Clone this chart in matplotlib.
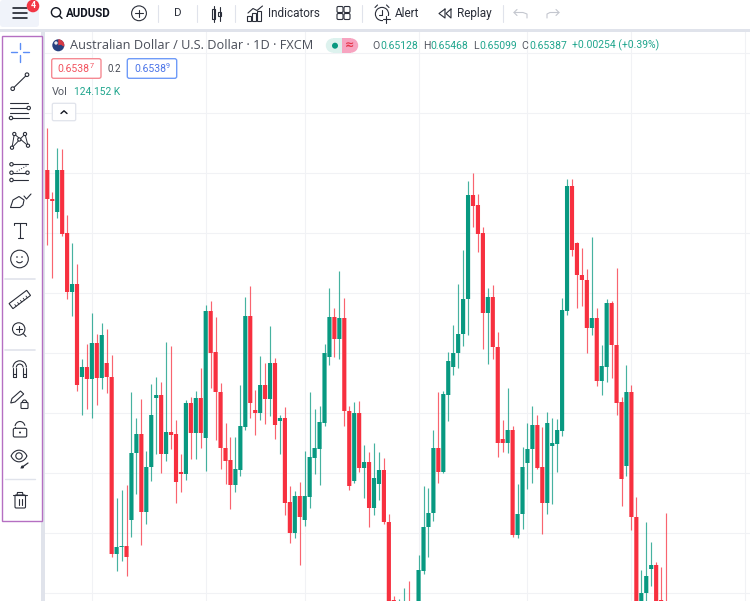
import numpy as np
import matplotlib
matplotlib.use("Agg")
import matplotlib.pyplot as plt
from matplotlib.patches import Circle, FancyBboxPatch, Polygon, Rectangle, Wedge, Arc

plt.rcParams['font.family'] = ['Roboto', 'DejaVu Sans']

# Daily AUD/USD candles, prices in pips (1 pip = 0.0001)
open_pips = [7030,7001,6988,7030,6967,6908,6916,6823,6833,6821,6857,6822,6837,6823,6646,6653,6654,6680,6747,6766,6688,6733,6802,6805,6746,6768,6766,6728,6726,6797,6767,6802,6762,6889,6848,6808,6752,6740,6715,6730,6773,6884,6790,6787,6815,6801,6837,6779,6782,6698,6667,6704,6680,6703,6742,6751,6777,6843,6883,6861,6882,6789,6719,6787,6732,6738,6692,6716,6730,6678,6600,6580,6585,6597,6585,6594,6629,6673,6687,6752,6728,6805,6833,6847,6866,6901,7005,6995,6967,6887,6903,6853,6761,6757,6770,6665,6686,6737,6751,6775,6733,6697,6754,6756,6769,6889,7014,6957,6925,6920,6872,6882,6819,6833,6897,6855,6798,6734,6808,6683,6594,6607,6631,6635,6600,6594,6512.8]
high_pips = [7072,7008,7052,7051,6985,6957,6936,6841,6856,6887,6866,6877,6871,6845,6702,6710,6715,6808,6782,6801,6749,6816,6823,6818,6858,6854,6780,6746,6800,6803,6809,6832,6895,6899,6883,6817,6777,6763,6763,6815,6903,6914,6810,6844,6837,6874,6842,6785,6793,6714,6709,6718,6749,6808,6791,6794,6856,6912,6892,6929,6902,6794,6798,6799,6755,6748,6757,6748,6742,6686,6604,6601,6612,6619,6597,6645,6714,6712,6770,6808,6809,6848,6875,6916,6950,7019,7027,7006,6973,6912,6915,6868,6780,6812,6774,6716,6753,6777,6794,6785,6773,6788,6782,6781,6902,7021,7021,6958,6952,6931,6963,6892,6855,6901,6899,6932,6803,6835,6815,6703,6630,6678,6658,6638,6633,6687,6546.8]
low_pips = [6955,6922,6982,6964,6901,6884,6809,6785,6791,6782,6795,6811,6807,6643,6629,6639,6624,6663,6706,6655,6676,6719,6746,6727,6739,6751,6697,6708,6720,6741,6741,6752,6729,6812,6760,6731,6716,6691,6708,6724,6770,6782,6765,6780,6776,6784,6761,6746,6685,6657,6662,6635,6674,6692,6726,6715,6774,6835,6843,6841,6774,6710,6717,6728,6702,6673,6685,6700,6676,6590,6580,6575,6575,6580,6580,6588,6626,6643,6679,6717,6727,6779,6825,6832,6854,6865,6973,6948,6851,6836,6841,6743,6748,6747,6663,6662,6671,6711,6717,6731,6666,6686,6696,6728,6764,6885,6944,6892,6894,6847,6865,6814,6805,6818,6822,6785,6694,6724,6670,6588,6588,6590,6614,6588,6588,6500,6509.9]
close_pips = [7001,6999,7030,6966,6908,6916,6815,6833,6821,6857,6822,6865,6823,6646,6653,6654,6643,6747,6766,6688,6733,6785,6805,6746,6768,6765,6718,6726,6797,6767,6802,6767,6889,6847,6808,6752,6739,6715,6731,6774,6884,6797,6787,6815,6801,6837,6775,6782,6697,6667,6704,6683,6704,6743,6752,6778,6847,6883,6861,6882,6789,6714,6787,6732,6738,6692,6722,6730,6678,6594,6594,6596,6597,6585,6595,6630,6673,6687,6752,6728,6806,6839,6847,6866,6901,7005,6994,6966,6887,6903,6853,6757,6757,6770,6665,6686,6733,6751,6775,6732,6697,6777,6757,6770,6890,7014,6950,6925,6920,6872,6882,6819,6834,6897,6855,6797,6721,6808,6683,6594,6607,6624,6635,6594,6594,6513.3,6538.7]

# Month boundaries (candle index) and price gridlines
month_ticks = [9, 32, 52, 75, 97, 118, 141]
price_grid = [0.7147, 0.7087, 0.7027, 0.6967, 0.6907, 0.6847, 0.6787, 0.6727, 0.6667, 0.6607]

symbol = "AUDUSD"
title = "Australian Dollar / U.S. Dollar · 1D · FXCM"
volume_text = "124.152 K"
bid_text, ask_text, spread_text = "0.6538", "0.6538", "0.2"
bid_sup, ask_sup = "7", "9"

opens = np.array(open_pips) / 1e4
highs = np.array(high_pips) / 1e4
lows = np.array(low_pips) / 1e4
closes = np.array(close_pips) / 1e4

UP = "#089981"
DOWN = "#F7303F"
GRID = "#F1F2F5"
BAND = "#E0E3EB"
INK = "#2A2E39"

W, H = 750, 601
fig = plt.figure(figsize=(W / 100, H / 100), dpi=100, facecolor="white")

# Price pane
pane_l, pane_t = 44.5, 32
ax = fig.add_axes([pane_l / W, 0, (W - pane_l) / W, (H - pane_t) / H])
step = 4.95
ax.set_xlim((pane_l - 47.3) / step, (W - 47.3) / step)
ax.set_ylim(0.72 - H / 1e4, 0.72 - pane_t / 1e4)
ax.set_xticks(month_ticks)
ax.set_yticks(price_grid)
ax.grid(True, color=GRID, lw=0.8)
ax.set_axisbelow(True)
ax.tick_params(length=0, labelbottom=False, labelleft=False)
for s in ax.spines.values():
    s.set_visible(False)

idx = np.arange(len(opens))
rising = closes >= opens
cols = [UP if r else DOWN for r in rising]
ax.vlines(idx, lows, highs, colors=cols, lw=0.85, alpha=0.75, zorder=2)
body_lo = np.minimum(opens, closes)
body_hi = np.maximum(opens, closes)
bodies = ax.bar(idx, body_hi - body_lo, bottom=body_lo, width=0.84, color=cols, lw=0, zorder=3)
for rect in bodies:
    rect.set_snap(False)

# Interface chrome, laid out in screen pixels
ui = fig.add_axes([0, 0, 1, 1], zorder=5)
ui.set_xlim(0, W)
ui.set_ylim(H, 0)
ui.axis("off")
ui.patch.set_alpha(0)


def ln(xs, ys, c=INK, lw=0.8, **kw):
    ui.plot(xs, ys, color=c, lw=lw, solid_capstyle=kw.pop("cap", "round"), **kw)


def ring(x, y, r, ec=INK, fc="white", lw=0.8):
    ui.add_patch(Circle((x, y), r, ec=ec, fc=fc, lw=lw, zorder=4))


def rbox(x0, y0, x1, y1, r=2, ec=INK, fc="none", lw=0.8, z=3):
    ui.add_patch(FancyBboxPatch((x0 + r, y0 + r), x1 - x0 - 2 * r, y1 - y0 - 2 * r,
                                boxstyle=f"round,pad={r},rounding_size={r}",
                                ec=ec, fc=fc, lw=lw, zorder=z))


def label(x, y, s, size=8.5, c=INK, ha="left", **kw):
    ui.text(x, y, s, fontsize=size, color=c, ha=ha, va="center", **kw)


# Separator bands
ui.add_patch(Rectangle((0, 29), W, 3, fc=BAND, ec="none"))
ui.add_patch(Rectangle((41, 29), 3.5, H - 29, fc=BAND, ec="none"))
ui.add_patch(Rectangle((0, 32), 41, H - 32, fc="white", ec="none"))
ui.add_patch(Rectangle((1.5, 36), 40.8, 485, fc="white", ec="#B56FC2", lw=1.0, zorder=1))

# Top toolbar
rbox(0, 0, 39, 27, r=3, ec="none", fc="#F0F3FA", z=1)
for yy in (8.3, 12.9, 17.6):
    ln([12.7, 26.7], [yy, yy], c="#131722", lw=1.15)
ui.add_patch(Circle((33, 6), 6.3, fc="#F23645", ec="none", zorder=4))
label(33, 5.8, "4", size=6.4, c="white", ha="center", weight="bold", zorder=5)

ring(56, 12.3, 4.6, ec="#131722", fc="none", lw=1.0)
ln([59.4, 62], [15.7, 18.4], c="#131722", lw=1.0)
label(66.3, 13.2, symbol, size=8.3, c="#131722", weight="bold")

ring(139, 13.3, 7.4, fc="none")
ln([135.3, 142.7], [13.3, 13.3])
ln([139, 139], [9.6, 17])
for sx in (158.3, 196.7, 235.3, 362.3, 503.3):
    ln([sx, sx], [4.5, 22], c=BAND, lw=0.8)
label(177.7, 13.5, "D", size=8.2, ha="center")

ui.add_patch(Rectangle((212, 9), 3, 10, fc="white", ec=INK, lw=0.8))
ln([213.5, 213.5], [6, 21.5])
ui.add_patch(Rectangle((218, 11.5), 3, 4.5, fc="white", ec=INK, lw=0.8))
ln([219.5, 219.5], [7, 20.5])

for bx, by in ((249, 16), (254, 13), (259, 11)):
    ui.add_patch(Rectangle((bx - 1.6, by), 3.2, 20.5 - by, fc="white", ec=INK, lw=0.8))
ln([248, 253, 257, 262.5], [13, 8.5, 10.5, 6])
label(268, 13.5, "Indicators")

for cx in (340, 347):
    for cy in (9.5, 16.5):
        rbox(cx - 3, cy - 3, cx + 3, cy + 3, r=1.3)

ring(382, 14, 6.6, fc="none")
ln([382, 382, 378.6], [10, 14.5, 14.5])
ln([375, 377.5], [7.5, 5])
ln([386.5, 389], [5, 7.5])
ui.add_patch(Rectangle((382.5, 15.5), 7, 7, fc="white", ec="none", zorder=4))
ln([386, 386], [15.5, 22.5], zorder=5)
ln([382.5, 389.5], [19, 19], zorder=5)
label(395, 13.5, "Alert")

ln([445, 439, 445, 445], [9, 13.5, 18, 9], lw=0.8)
ln([451, 446, 451, 451], [9, 13.5, 18, 9], lw=0.8)
label(457.3, 13.5, "Replay")

GREY = "#C4C7CF"
ln([517, 514, 517], [9.5, 12.5, 15.5], c=GREY)
ln([514, 523, 527, 527], [12.5, 12.5, 14, 18], c=GREY)
ln([556, 559, 556], [9.5, 12.5, 15.5], c=GREY)
ln([559, 550, 547, 547], [12.5, 12.5, 14, 18], c=GREY)

# Drawing tools
BLUE = "#5B8DF6"
ln([10.7, 16.7], [52.3, 52.3], c=BLUE, lw=1.0)
ln([22.7, 29.3], [52.3, 52.3], c=BLUE, lw=1.0)
ln([19.7, 19.7], [42.7, 49], c=BLUE, lw=1.0)
ln([19.7, 19.7], [55.3, 61.7], c=BLUE, lw=1.0)

ln([12.7, 27], [88.7, 74.7])
ring(12.7, 88.7, 1.8)
ring(27, 74.7, 1.8)

ln([10, 28], [103, 103])
ln([10, 27], [108, 108])
ring(28.7, 108, 1.7)
ln([10, 28], [113, 113])
ln([12, 29], [118, 118])
ring(11, 118, 1.7)

xp = [14.3, 12, 25, 28, 14.3]
yp = [134, 147.7, 134, 145.7, 134]
ln(xp, yp, lw=0.7)
for a, b in zip(xp[:4], yp[:4]):
    ring(a, b, 1.6)
ring(19.3, 139.5, 1.6)

ln([12, 28], [164.3, 164.3])
ring(11.5, 164.3, 1.7)
ln([16.7, 27], [171.5, 165.5], ls=":", lw=0.7)
ln([12, 27], [172.7, 172.7])
ring(11.5, 172.7, 1.7)
ring(27.5, 172.7, 1.7)
ln([12, 28], [180, 180])
ring(11.5, 180, 1.7)

ui.add_patch(Polygon([(10.5, 207.5), (13, 200), (19, 196.5), (24, 200), (23, 205), (20, 207.5)],
                     closed=True, fc="white", ec=INK, lw=0.8, joinstyle="round"))
ln([24, 26.5, 31], [196, 199, 194])

ln([14, 14, 26, 26], [225, 222.5, 222.5, 225])
ln([20, 20], [222.5, 237.5])
ln([17.5, 22.5], [237.8, 237.8])

ring(19.5, 259, 8.8)
ui.add_patch(Circle((17, 257), 0.8, fc=INK, ec="none", zorder=5))
ui.add_patch(Circle((22, 257), 0.8, fc=INK, ec="none", zorder=5))
ui.add_patch(Arc((19.5, 260), 6.5, 5.5, theta1=20, theta2=160, ec=INK, lw=0.8, zorder=5))
ln([5, 34.5], [279.3, 279.3], c=BAND, lw=1.2)

# Ruler
cx, cy, ang = 19.8, 299.5, np.radians(-37)
ux, uy = np.cos(ang), np.sin(ang)
vx, vy = -uy, ux
ruler = [(cx + a * ux + b * vx, cy + a * uy + b * vy) for a, b in ((-11, -3.2), (11, -3.2), (11, 3.2), (-11, 3.2))]
ui.add_patch(Polygon(ruler, closed=True, fc="white", ec=INK, lw=0.8))
for a in (-7, -3.5, 0, 3.5, 7):
    ln([cx + a * ux + 3.2 * vx, cx + a * ux + 1 * vx], [cy + a * uy + 3.2 * vy, cy + a * uy + 1 * vy], lw=0.6)

ring(18.7, 329, 6.2, fc="none")
ln([23.2, 26], [333.5, 336.5])
ln([15.7, 21.7], [329, 329])
ln([18.7, 18.7], [326, 332])
ln([5, 34.5], [350, 350], c=BAND, lw=1.2)

# Magnet
ui.add_patch(Arc((19.7, 367.5), 13.4, 13.4, theta1=180, theta2=360, ec=INK, lw=0.8))
ui.add_patch(Arc((19.7, 367.5), 6.8, 6.8, theta1=180, theta2=360, ec=INK, lw=0.8))
ln([13, 13, 16.3, 16.3], [367.5, 377, 377, 367.5])
ln([26.4, 26.4, 23.1, 23.1], [367.5, 377, 377, 367.5])
ln([13, 16.3], [373.5, 373.5])
ln([23.1, 26.4], [373.5, 373.5])

# Pencil with padlock
ui.add_patch(Polygon([(10.7, 403), (12, 398.5), (20.5, 391), (23.7, 394), (15, 402)], closed=True,
                     fc="white", ec=INK, lw=0.8))
rbox(21, 402.5, 28, 408.5, r=0.8, fc="white", z=4)
ui.add_patch(Arc((24.5, 402.5), 4.4, 5, theta1=180, theta2=360, ec=INK, lw=0.8))

# Open padlock
rbox(13.3, 428.3, 26.7, 437, r=1.5, fc="white")
ui.add_patch(Arc((20, 427), 10, 11, theta1=190, theta2=345, ec=INK, lw=0.8))
ln([15, 15], [427, 428.3])
ui.add_patch(Circle((20, 432.5), 1, fc=INK, ec="none", zorder=5))

# Eye with brush
lens = np.linspace(-1, 1, 41)
ln(19 + 7.8 * lens, 456 - 5.8 * (1 - lens ** 2) ** 0.75, lw=0.8)
ln(19 + 7.8 * lens, 456 + 5.8 * (1 - lens ** 2) ** 0.75, lw=0.8)
ring(19, 456, 3.2, fc="none")
ln([21, 28], [468, 463], lw=0.9)
ui.add_patch(Circle((22.5, 467), 1.5, fc=INK, ec="none"))
ln([5, 34.5], [479.3, 479.3], c=BAND, lw=1.0)

# Trash can
ln([13, 27], [495, 495])
ln([17, 17.5, 22.5, 23], [495, 492.5, 492.5, 495])
rbox(15, 495, 25.5, 508, r=1.2)
ln([18.5, 18.5], [498.5, 505])
ln([22, 22], [498.5, 505])

# Legend row
ui.add_patch(Circle((58.3, 45.3), 6, fc="#27407F", ec="none", zorder=4))
ui.add_patch(Wedge((58.3, 45.3), 6, 270, 10, fc="#D63A45", ec="none", zorder=4))
ui.add_patch(Circle((60.5, 47), 2.2, fc="#27407F", ec="none", zorder=4))
ui.add_patch(Circle((56, 43), 1.7, fc="#E8E8EE", ec="none", zorder=5))
label(70, 45.7, title, size=9.2, c="#4A4E59", family=["Open Sans", "DejaVu Sans"])

ui.add_patch(Wedge((333, 45.5), 7.2, 90, 270, fc="#DDF2EE", ec="none"))
ui.add_patch(Rectangle((333, 38.3), 9, 14.4, fc="#DDF2EE", ec="none"))
ui.add_patch(Rectangle((342, 38.3), 9, 14.4, fc="#F7A4C0", ec="none"))
ui.add_patch(Wedge((351, 45.5), 7.2, 270, 90, fc="#F7A4C0", ec="none"))
ui.add_patch(Circle((335, 45.7), 3, fc=UP, ec="none", zorder=4))
label(349.5, 45.2, "≈", size=8, c="#E5354A", ha="center", weight="bold", family="DejaVu Sans")

TEAL = "#1FA58D"
prev_close = closes[-2]
change = closes[-1] - prev_close
for tx, key, val_x, val in ((372, "O", 380, opens[-1]), (422.7, "H", 430, highs[-1]),
                            (472.7, "L", 479, lows[-1]), (521.7, "C", 529, closes[-1])):
    label(tx, 45.7, key, size=7.6, c="#555963")
    label(val_x, 45.7, f"{val:.5f}", size=7.5, c=TEAL)
label(571.7, 45.7, f"{change:+.5f} ({change / prev_close * 100:+.2f}%)", size=7.5, c=TEAL)

rbox(51.7, 58.7, 101, 78.3, r=2, ec="#F58A93", fc="white", lw=1.0)
label(57.7, 69, bid_text, size=7.5, c="#F2525E", zorder=5)
label(89.6, 66.6, bid_sup, size=5.2, c="#F2525E", zorder=5)
label(114, 68.6, spread_text, size=7.0, c="#444852", ha="center")
rbox(127.3, 58.7, 176.7, 78.3, r=2, ec="#6F9BF8", fc="white", lw=1.0)
label(134, 69, ask_text, size=7.5, c="#4B74E8", zorder=5)
label(166, 66.6, ask_sup, size=5.2, c="#4B74E8", zorder=5)

label(52, 92.3, "Vol", size=7.8, c="#555963")
label(73.5, 92.3, volume_text, size=7.4, c=TEAL)

rbox(52.3, 103.3, 75.7, 120.7, r=1.5, ec=BAND, fc="white", lw=0.9)
ln([61, 64, 67], [113.5, 110.8, 113.5], c="#131722", lw=1.0, zorder=5)

fig.savefig("out.png", dpi=100)
